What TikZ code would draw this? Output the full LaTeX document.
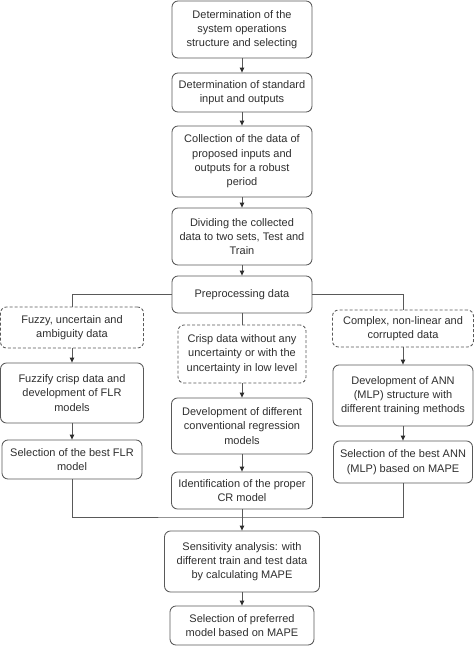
\documentclass[tikz,border=0pt]{standalone}
\usepackage{fontspec}
\setmainfont{Liberation Sans}
\usetikzlibrary{arrows.meta}
\begin{document}
\begin{tikzpicture}[x=1pt, y=-1pt, font=\fontsize{11}{14.3}\selectfont,
	stepbox/.style={rectangle, rounded corners=6pt, draw=black!65, line width=.85pt, align=center, inner sep=0pt, text=black!82},
	databox/.style={stepbox, dash pattern=on 3pt off 2pt},
	flow/.style={draw=black!65, line width=.85pt},
	arrow/.style={flow, -{Triangle[length=5pt, width=4.5pt, color=black!82]}}]
		\useasboundingbox (0,0) rectangle (474,646);
		\node (detSys) [stepbox, minimum width=140pt, minimum height=57pt] at (242,29.5) {Determination of the\\system operations\\structure and selecting};
		\node (detStd) [stepbox, minimum width=140pt, minimum height=39pt] at (242,92.5) {Determination of standard\\input and outputs};
		\node (collData) [stepbox, minimum width=140pt, minimum height=71pt] at (242,161.5) {Collection of the data of\\proposed inputs and\\outputs for a robust\\period};
		\node (divData) [stepbox, minimum width=140pt, minimum height=57pt] at (242,236.5) {Dividing the collected\\data to two sets, Test and\\Train};
		\node (preData) [stepbox, minimum width=140pt, minimum height=37pt] at (242,294.5) {Preprocessing data};
		\node (fuzzyL) [databox, minimum width=143pt, minimum height=41pt] at (72,327.5) {Fuzzy, uncertain and\\ambiguity data};
		\node (crispM) [databox, minimum width=128pt, minimum height=58pt] at (242,354) {Crisp data without any\\uncertainty or with the\\uncertainty in low level};
		\node (complexR) [databox, minimum width=141pt, minimum height=37pt] at (403,328.5) {Complex, non-linear and\\corrupted data};
		\node (flrL) [stepbox, minimum width=143pt, minimum height=60pt] at (72,393) {Fuzzify crisp data and\\development of FLR\\models};
		\node (crM) [stepbox, minimum width=141pt, minimum height=56pt] at (242,426) {Development of different\\conventional regression\\models};
		\node (annR) [stepbox, minimum width=140pt, minimum height=61pt] at (403,395.5) {Development of ANN\\(MLP) structure with\\different training methods};
		\node (selL) [stepbox, minimum width=140pt, minimum height=39pt] at (72,459.5) {Selection of the best FLR\\model};
		\node (idM) [stepbox, minimum width=141pt, minimum height=37pt] at (242,490.5) {Identification of the proper\\CR model};
		\node (selR) [stepbox, minimum width=139pt, minimum height=42pt] at (403,462) {Selection of the best ANN\\(MLP) based on MAPE};
		\node (sensM) [stepbox, minimum width=155pt, minimum height=61pt] at (242,561.5) {Sensitivity analysis: with\\different train and test data\\by calculating MAPE};
		\node (prefM) [stepbox, minimum width=144pt, minimum height=39pt] at (242,625.5) {Selection of preferred\\model based on MAPE};
		\draw[arrow] (detSys) -- (detStd);
		\draw[arrow] (detStd) -- (collData);
		\draw[arrow] (collData) -- (divData);
		\draw[arrow] (divData) -- (preData);
		\draw[flow] (preData) -| (fuzzyL);
		\draw[flow] (preData) -- (crispM);
		\draw[flow] (preData) -| (complexR);
		\draw[arrow] (fuzzyL) -- (flrL);
		\draw[arrow] (flrL) -- (selL);
		\draw[arrow] (crispM) -- (crM);
		\draw[arrow] (crM) -- (idM);
		\draw[arrow] (complexR) -- (annR);
		\draw[arrow] (annR) -- (selR);
		%Zusammenführung
		\coordinate (joinM) at (242,517);
		\draw[flow] (selL) |- (joinM) -| (selR);
		\draw[arrow] (idM) -- (sensM);
		\draw[arrow] (sensM) -- (prefM);
	\end{tikzpicture}
\end{document}
